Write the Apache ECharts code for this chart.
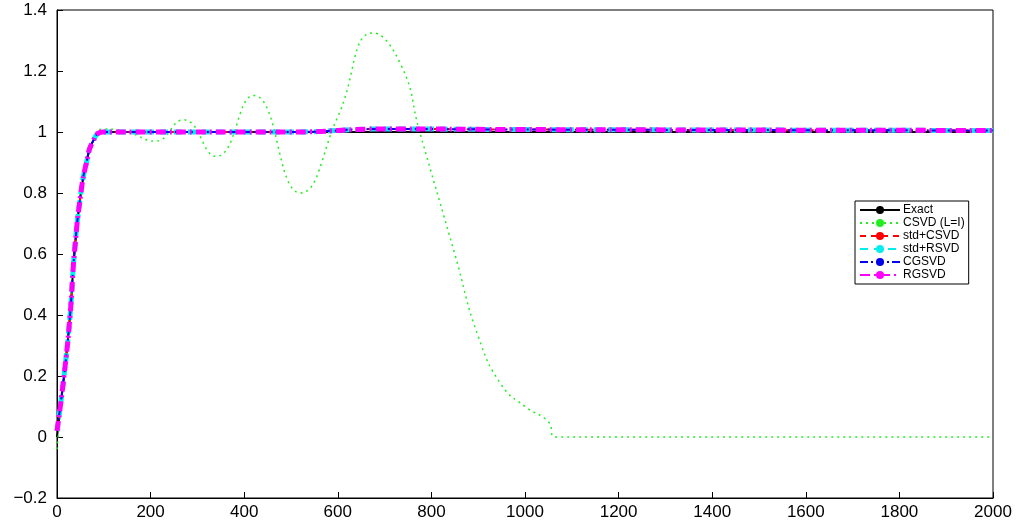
<!DOCTYPE html>
<html><head><meta charset="utf-8">
<script src="https://cdn.jsdelivr.net/npm/echarts@6/dist/echarts.min.js"></script>
<style>html,body{margin:0;background:#fff}#container{width:1018px;height:529px}</style>
</head><body><div id="container"></div>
<script>
var myChart = echarts.init(document.getElementById('container'));

// 精确解
var exactX = [0, 15, 28, 37, 51, 63, 77, 98, 200, 600, 2000];
var exactY = [0, 0.2, 0.4, 0.6, 0.8, 0.9, 0.97, 1.0, 1.0, 1.0, 1.0];
// CSVD (L=I)
var csvdX = [0, 15, 28, 37, 51, 63, 77, 98, 150, 210, 270, 340, 420, 520, 600, 675, 735, 775, 850, 900, 950, 1000, 1050, 1065, 1200, 2000];
var csvdY = [-0.04, 0.2, 0.4, 0.6, 0.8, 0.9, 0.97, 1.01, 1.0, 0.97, 1.04, 0.92, 1.12, 0.8, 1.05, 1.325, 1.22, 1.0, 0.6, 0.33, 0.17, 0.1, 0.05, 0.0, 0.0, 0.0];
// 其它方法
var regX = [0, 15, 28, 37, 51, 63, 77, 98, 200, 500, 700, 1000, 2000];
var regY = [0.02, 0.2, 0.4, 0.6, 0.8, 0.9, 0.97, 1.0, 1.0, 1.0, 1.01, 1.008, 1.005];

function pairs(xs, ys) { return xs.map(function (x, i) { return [x, ys[i]]; }); }

function line(name, xs, ys, color, width, type, smooth) {
    return {name: name, type: 'line', data: pairs(xs, ys), symbol: 'none', smooth: smooth,
        lineStyle: {color: color, width: width, type: type}, itemStyle: {color: color}};
}

var option = {
    animation: false,
    grid: {left: 57, right: 25, top: 10, bottom: 31, show: true, borderColor: '#000', borderWidth: 1},
    legend: {
        orient: 'vertical', left: 855, top: 201, itemGap: 1, itemWidth: 40, itemHeight: 10,
        backgroundColor: '#fff', borderColor: '#000', borderWidth: 1, padding: [3, 4],
        textStyle: {fontFamily: 'Liberation Sans', fontSize: 12, color: '#000', padding: [0, 0, 0, -2]},
        data: ['Exact', 'CSVD (L=I)', 'std+CSVD', 'std+RSVD', 'CGSVD', 'RGSVD']
    },
    xAxis: {
        type: 'value', min: 0, max: 2000, interval: 200,
        axisLine: {onZero: false, lineStyle: {color: '#000'}}, axisTick: {inside: true, length: 6, lineStyle: {color: '#000'}},
        axisLabel: {color: '#000', fontSize: 17, fontFamily: 'Liberation Sans', margin: 6,
            formatter: function (v) { return String(v); }},
        splitLine: {show: false}
    },
    yAxis: {
        type: 'value', min: -0.2, max: 1.4, interval: 0.2,
        axisLine: {show: true, lineStyle: {color: '#000'}}, axisTick: {show: true, inside: true, length: 6, lineStyle: {color: '#000'}},
        axisLabel: {color: '#000', fontSize: 17, fontFamily: 'Liberation Sans', margin: 10,
            formatter: function (v) { v = Math.round(v * 10) / 10; return v < 0 ? '\u2212' + (-v) : String(v); }},
        splitLine: {show: false}
    },
    series: [
        line('Exact', exactX, exactY, '#000', 2, 'solid', 0.5),
        line('CSVD (L=I)', csvdX, csvdY, '#22ee22', 1.5, [2, 4], 0.5),
        line('std+CSVD', regX, regY, '#ff0000', 2, [6, 5], 0.5),
        line('std+RSVD', regX, regY, '#00eeee', 5, [8, 6], 0.5),
        line('CGSVD', regX, regY, '#0000ee', 2, [8, 3, 2, 3], 0.5),
        line('RGSVD', regX, regY, '#ff00ff', 5, [10, 4, 2, 4], 0.5)
    ]
};
myChart.setOption(option, true);
window.onresize = function () { myChart.resize(); };
</script></body></html>
